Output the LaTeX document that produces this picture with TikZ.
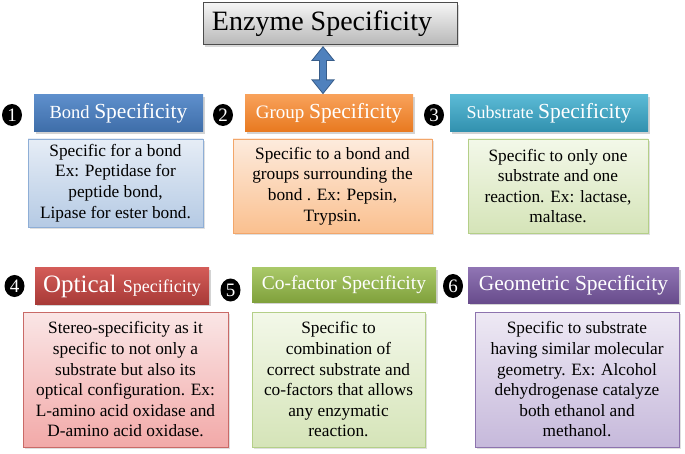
\documentclass[tikz,border=0pt]{standalone}
\usepackage{fontspec}
\setmainfont{Liberation Serif}
\usetikzlibrary{shadows,arrows.meta,shapes.geometric}
\definecolor{bT}{HTML}{5E8FCC}\definecolor{bB}{HTML}{3E6DA8}
\definecolor{oT}{HTML}{F8A15A}\definecolor{oB}{HTML}{E8791F}
\definecolor{tT}{HTML}{5BBAD5}\definecolor{tB}{HTML}{3190AE}
\definecolor{rT}{HTML}{D35C58}\definecolor{rB}{HTML}{A83A37}
\definecolor{gT}{HTML}{A9C868}\definecolor{gB}{HTML}{80A13C}
\definecolor{pT}{HTML}{8F74B3}\definecolor{pB}{HTML}{684C8C}
\definecolor{dbT}{HTML}{E6EDF6}\definecolor{dbB}{HTML}{B5CAE4}\definecolor{dbD}{HTML}{8EAED6}
\definecolor{doT}{HTML}{FDEBDD}\definecolor{doB}{HTML}{FAC08F}\definecolor{doD}{HTML}{F2A66A}
\definecolor{dgT}{HTML}{F3F8E9}\definecolor{dgB}{HTML}{D5E4B8}\definecolor{dgD}{HTML}{B4CF88}
\definecolor{drT}{HTML}{FAE6E6}\definecolor{drB}{HTML}{F2A9A8}\definecolor{drD}{HTML}{C96A67}
\definecolor{dpT}{HTML}{EEE9F4}\definecolor{dpB}{HTML}{C6B9DB}\definecolor{dpD}{HTML}{8D73AE}
\definecolor{arrowfill}{HTML}{4F81BD}\definecolor{arrowline}{HTML}{385D8A}
\tikzset{
  hdr/.style={rectangle, inner sep=0pt, text=white, draw=none,
    drop shadow={opacity=0.35, shadow xshift=1.5pt, shadow yshift=-2pt}},
  desc/.style={rectangle, inner sep=0pt, line width=0.8pt, align=center, text=black,
    font=\fontsize{17.3}{20.6}\selectfont,
    drop shadow={opacity=0.25, shadow xshift=1.5pt, shadow yshift=-2pt}},
  num/.style={ellipse, fill=black, text=white, inner sep=0pt,
    font=\fontsize{19}{19}\selectfont},
}
\begin{document}
\begin{tikzpicture}[x=1pt,y=-1pt]
\useasboundingbox (0,0) rectangle (685,454);
% title
\node[rectangle, draw={black!70}, line width=1pt, top color={black!4}, bottom color={black!28},
  minimum width=254pt, minimum height=42pt, inner sep=0pt,
  font=\fontsize{28}{30}\selectfont,
  drop shadow={opacity=0.3, shadow xshift=1.5pt, shadow yshift=-2pt}] (title) at (330,24) {\kern-16pt Enzyme Specificity};
% row 1
\node[num, minimum width=20pt, minimum height=22pt] (n1) at (12,115) {1};
\node[hdr, top color=bT, bottom color=bB, minimum width=169pt, minimum height=37pt] (h1) at (118.5,113.5)
  {\fontsize{18.5}{20}\selectfont Bond {\fontsize{21.5}{24}\selectfont Specificity}};
\node[desc, draw=dbD, top color=dbT, bottom color=dbB, minimum width=175pt, minimum height=88pt] (d1) at (115.5,183)
  {Specific for a bond\\Ex: Peptidase for\\peptide bond,\\Lipase for ester bond.};
\node[num, minimum width=20pt, minimum height=22pt] (n2) at (223,115) {2};
\node[hdr, top color=oT, bottom color=oB, minimum width=168pt, minimum height=37pt] (h2) at (329,113.5)
  {\fontsize{19}{20}\selectfont Group {\fontsize{21.5}{24}\selectfont Specificity}};
\node[desc, draw=doD, top color=doT, bottom color=doB, minimum width=199pt, minimum height=94pt] (d2) at (332.5,186)
  {Specific to a bond and\\groups surrounding the\\bond . Ex: Pepsin,\\Trypsin.};
\node[num, minimum width=20pt, minimum height=22pt] (n3) at (434,115) {3};
\node[hdr, top color=tT, bottom color=tB, minimum width=198pt, minimum height=37pt] (h3) at (549,113.5)
  {\fontsize{18}{20}\selectfont Substrate {\fontsize{21.5}{24}\selectfont Specificity}};
\node[desc, draw=dgD, top color=dgT, bottom color=dgB, minimum width=180pt, minimum height=94pt] (d3) at (558,186)
  {Specific to only one\\substrate and one\\reaction. Ex: lactase,\\maltase.};
% row 2
\node[num, minimum width=20pt, minimum height=22pt] (n4) at (14.5,286) {4};
\node[hdr, top color=rT, bottom color=rB, minimum width=174pt, minimum height=36pt] (h4) at (122,286)
  {\fontsize{25}{26}\selectfont Optical {\fontsize{18}{20}\selectfont Specificity}};
\node[desc, draw=drD, top color=drT, bottom color=drB, minimum width=205pt, minimum height=135pt] (d4) at (125.5,379.5)
  {Stereo-specificity as it\\specific to not only a\\substrate but also its\\optical configuration. Ex:\\L-amino acid oxidase and\\D-amino acid oxidase.};
\node[num, minimum width=20pt, minimum height=23pt] (n5) at (230.5,290) {5};
\node[hdr, top color=gT, bottom color=gB, minimum width=184pt, minimum height=34pt] (h5) at (344,285)
  {\fontsize{19.5}{20}\selectfont Co-factor Specificity};
\node[desc, draw=dgD, top color=dgT, bottom color=dgB, minimum width=173pt, minimum height=135pt] (d5) at (338.5,379.5)
  {Specific to\\combination of\\correct substrate and\\co-factors that allows\\any enzymatic\\reaction.};
\node[num, minimum width=20pt, minimum height=24pt] (n6) at (453,286) {6};
\node[hdr, top color=pT, bottom color=pB, minimum width=211pt, minimum height=35pt] (h6) at (573.5,285.5)
  {\fontsize{21.5}{24}\selectfont Geometric Specificity};
\node[desc, draw=dpD, top color=dpT, bottom color=dpB, minimum width=204pt, minimum height=135pt] (d6) at (577,379.5)
  {Specific to substrate\\having similar molecular\\geometry. Ex: Alcohol\\dehydrogenase catalyze\\both ethanol and\\methanol.};
% double arrow
\draw[arrowline, line width=8.5pt, {Triangle[width=23pt,length=15pt]}-{Triangle[width=23pt,length=15pt]}, shorten <=0.5pt, shorten >=0.5pt]
  ([xshift=-7pt]title.south) -- ([xshift=-6pt]h2.north);
\draw[arrowfill, line width=6pt, {Triangle[width=19pt,length=12.5pt]}-{Triangle[width=19pt,length=12.5pt]}, shorten <=2pt, shorten >=2pt]
  ([xshift=-7pt]title.south) -- ([xshift=-6pt]h2.north);
\end{tikzpicture}
\end{document}
